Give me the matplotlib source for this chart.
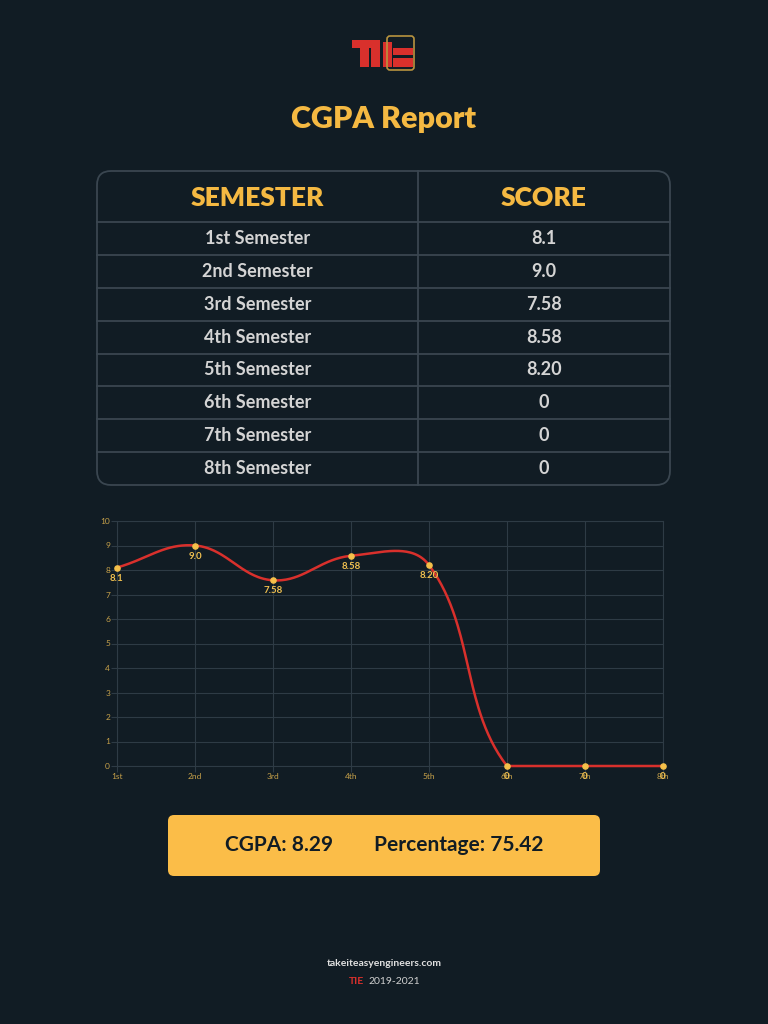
import numpy as np
import matplotlib.pyplot as plt
from matplotlib.patches import FancyBboxPatch, Rectangle

semesters = ['1st Semester', '2nd Semester', '3rd Semester', '4th Semester',
             '5th Semester', '6th Semester', '7th Semester', '8th Semester']
score_text = ['8.1', '9.0', '7.58', '8.58', '8.20', '0', '0', '0']
scores = [8.1, 9.0, 7.58, 8.58, 8.20, 0, 0, 0]
short_labels = ['1st', '2nd', '3rd', '4th', '5th', '6th', '7th', '8th']
cgpa = '8.29'
percentage = '75.42'

BG = '#111c24'
GOLD = '#f5b942'
LINE = '#3a4650'
RED = '#d9302c'

plt.rcParams['font.family'] = ['Lato', 'DejaVu Sans']

fig = plt.figure(figsize=(7.68, 10.24), dpi=100, facecolor=BG)

# overlay in pixel coords for table, title, logo, footer
bg = fig.add_axes([0, 0, 1, 1])
bg.set_xlim(0, 768)
bg.set_ylim(1024, 0)
bg.axis('off')

# logo
for x, y, w, h in [(352, 40, 28, 8), (360, 40, 9, 27), (371, 48, 9, 19),
                   (383, 42, 9, 25), (393, 48, 20, 7), (393, 58, 20, 9)]:
    bg.add_patch(Rectangle((x, y), w, h, color=RED, lw=0))
bg.add_patch(FancyBboxPatch((387, 36), 27, 34, boxstyle='round,pad=0,rounding_size=3',
                            fill=False, ec='#b8943f', lw=1.2))

bg.text(384, 119, 'CGPA Report', color=GOLD, fontsize=22, fontweight='heavy',
        ha='center', va='center')

# table
top, bottom, left, right, mid = 171, 485, 97, 670, 418
header_h = 51
row_h = (bottom - top - header_h) / len(semesters)
bg.add_patch(FancyBboxPatch((left, top), right - left, bottom - top,
                            boxstyle='round,pad=0,rounding_size=14',
                            fill=False, ec=LINE, lw=1.3))
bg.plot([mid, mid], [top, bottom], color=LINE, lw=1.3)
for i in range(len(semesters)):
    y = top + header_h + i * row_h
    bg.plot([left, right], [y, y], color=LINE, lw=1.3)
bg.text((left + mid) / 2, top + header_h / 2 + 1, 'SEMESTER', color=GOLD,
        fontsize=19, fontweight='heavy', ha='center', va='center')
bg.text((mid + right) / 2, top + header_h / 2 + 1, 'SCORE', color=GOLD,
        fontsize=19, fontweight='heavy', ha='center', va='center')
for i, (s, v) in enumerate(zip(semesters, score_text)):
    y = top + header_h + (i + 0.5) * row_h
    bg.text((left + mid) / 2, y, s, color='#d4d4d4', fontsize=13,
            fontweight='bold', ha='center', va='center')
    bg.text((mid + right) / 2, y, v, color='#d4d4d4', fontsize=13,
            fontweight='bold', ha='center', va='center')

# summary box
bg.add_patch(FancyBboxPatch((168, 815), 432, 61, boxstyle='round,pad=0,rounding_size=6',
                            fc='#fbbd48', ec='none'))
bg.text(384, 845, f'CGPA: {cgpa}        Percentage: {percentage}', color='#111c24',
        fontsize=15, fontweight='bold', ha='center', va='center')

# footer
bg.text(384, 963, 'takeiteasyengineers.com', color='#e0e0e0', fontsize=7.5,
        fontweight='bold', ha='center', va='center')
bg.text(364, 981, 'TIE', color=RED, fontsize=7.5, fontweight='bold', ha='right', va='center')
bg.text(368, 981, '2019-2021', color='#cfcfcf', fontsize=7.5, ha='left', va='center')

# chart
ax = fig.add_axes([117 / 768, 1 - 766 / 1024, 546 / 768, 245 / 1024])
ax.set_facecolor(BG)
xs = np.arange(len(scores), dtype=float)
ys = np.array(scores, dtype=float)

# Chart.js style bezier (tension 0.4), distances in pixel space,
# control points capped to the chart area
sx, sy = 546 / 7, 24.5
px, py = xs * sx, ys * sy
curve_x, curve_y = [], []
cps = []
for i in range(len(px)):
    p0 = (px[max(i - 1, 0)], py[max(i - 1, 0)])
    p1 = (px[i], py[i])
    p2 = (px[min(i + 1, len(px) - 1)], py[min(i + 1, len(px) - 1)])
    d01 = np.hypot(p1[0] - p0[0], p1[1] - p0[1])
    d12 = np.hypot(p2[0] - p1[0], p2[1] - p1[1])
    s01 = d01 / (d01 + d12) if d01 + d12 else 0
    s12 = d12 / (d01 + d12) if d01 + d12 else 0
    fa, fb = 0.4 * s01, 0.4 * s12
    cp_prev = [p1[0] - fa * (p2[0] - p0[0]), p1[1] - fa * (p2[1] - p0[1])]
    cp_next = [p1[0] + fb * (p2[0] - p0[0]), p1[1] + fb * (p2[1] - p0[1])]
    for cp in (cp_prev, cp_next):
        cp[1] = min(max(cp[1], 0), 10 * sy)
    cps.append((cp_prev, cp_next))
t = np.linspace(0, 1, 60)[:, None]
for i in range(len(px) - 1):
    P0 = np.array([px[i], py[i]])
    P1 = np.array(cps[i][1])
    P2 = np.array(cps[i + 1][0])
    P3 = np.array([px[i + 1], py[i + 1]])
    seg = ((1 - t) ** 3) * P0 + 3 * ((1 - t) ** 2) * t * P1 + 3 * (1 - t) * t ** 2 * P2 + t ** 3 * P3
    curve_x.extend(seg[:, 0] / sx)
    curve_y.extend(seg[:, 1] / sy)

ax.plot(curve_x, curve_y, color=RED, lw=1.8, zorder=3, clip_on=False)
ax.scatter(xs, ys, s=14, color='#f5c04a', zorder=4, clip_on=False)
for x, y, lab in zip(xs, ys, score_text):
    ax.text(x, y - 0.25, lab, color='#f0c050', fontsize=7, fontweight='bold',
            ha='center', va='top', zorder=5)

ax.set_xlim(0, 7)
ax.set_ylim(0, 10)
ax.set_xticks(xs, short_labels)
ax.set_yticks(range(11))
ax.grid(True, color='#2e3b45', lw=0.8)
ax.tick_params(colors='#2e3b45', labelcolor='#c8a24a', labelsize=6, length=4, pad=1)
for sp in ax.spines.values():
    sp.set_color('#2e3b45')
ax.set_axisbelow(True)

fig.savefig('out.png', dpi=100, facecolor=BG)
